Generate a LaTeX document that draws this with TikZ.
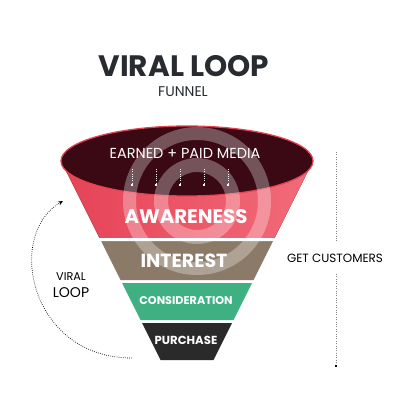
\documentclass[tikz,border=0pt]{standalone}
\usepackage{tikz}
\usepackage{xcolor}
\usepackage{fontspec}
\setmainfont{Poppins}
\usetikzlibrary{calc,arrows.meta,positioning}
\definecolor{titleGray}{RGB}{40,44,48}
\definecolor{funnelRed}{RGB}{230,66,86}
\definecolor{funnelPink}{RGB}{242,108,122}
\definecolor{funnelDark}{RGB}{58,9,19}
\definecolor{funnelBrown}{RGB}{139,122,104}
\definecolor{funnelGreen}{RGB}{62,176,130}
\definecolor{funnelBlack}{RGB}{42,42,42}
\definecolor{dotGray}{RGB}{130,130,130}
\newcommand{\BandText}[2]{{\fontsize{#1}{#1}\selectfont\bfseries\color{white}#2}}
\tikzset{
  bandlabel/.style={inner sep=0pt,align=center},
  thinlabel/.style={inner sep=0pt,align=center,text=black},
}

\begin{document}
\begin{tikzpicture}[x=0.025cm,y=-0.025cm]
\useasboundingbox[fill=white] (0,0) rectangle (400,400);
\node[inner sep=0pt,text=titleGray] (title) at (184,66) {\fontsize{21}{21}\selectfont\bfseries VIRAL LOOP};
\node[thinlabel,text=titleGray] (subtitle) at (183,92) {\fontsize{10}{10}\selectfont FUNNEL};
\fill[left color=funnelRed,right color=funnelPink] (61,161) -- (313,161) -- (274.5,238) -- (99.5,238) -- cycle;
\fill[funnelBrown] (101,241) -- (273,241) -- (253.5,280) -- (120.5,280) -- cycle;
\fill[funnelGreen] (122,283) -- (252,283) -- (233.5,320) -- (140.5,320) -- cycle;
\fill[funnelBlack] (142,323) -- (232,323) -- (213.5,360) -- (160.5,360) -- cycle;
\fill[funnelDark,draw=funnelRed,line width=0.9pt] (187,161) ellipse[x radius=126,y radius=35];
\begin{scope}
  \clip (313,161) arc[start angle=0,end angle=-180,x radius=126,y radius=35]
        -- (99.5,238) -- (101,241) -- (120.5,280) -- (253.5,280) -- (273,241) -- (274.5,238) -- cycle;
  \fill[white,opacity=0.3,even odd rule] (197,201) circle[radius=74] (197,201) circle[radius=61]
        (197,201) circle[radius=43] (197,201) circle[radius=29];
\end{scope}
\fill[white] (99.5,238) -- (274.5,238) -- (273,241) -- (101,241) -- cycle;
\node[thinlabel,text=white] (media) at (185,153) {\fontsize{10.3}{10.3}\selectfont EARNED + PAID MEDIA};
\foreach \x in {132,156,180,204,228} {
  \draw[white,densely dotted,line width=0.6pt] (\x,169) -- (\x,183);
  \fill[white] (\x-1,184) rectangle (\x+1,186);
}
\node[bandlabel] (awareness) at (186,217) {\BandText{14}{AWARENESS}};
\node[bandlabel] (interest) at (184,261) {\BandText{13.5}{INTEREST}};
\node[bandlabel] (consideration) at (186,301) {\BandText{8}{CONSIDERATION}};
\node[bandlabel] (purchase) at (186,340) {\BandText{8.3}{PURCHASE}};
\node[thinlabel] (loopLabel) at (71,285) {\fontsize{8}{10}\selectfont VIRAL\\LOOP};
\coordinate (loopStart) at (132,358);
\coordinate (loopEnd) at (63,201);
\draw[densely dotted,line width=0.5pt,-{Stealth[length=3.5pt,width=3pt]}] (loopStart) .. controls (30,358) and (5,235) .. (loopEnd);
\node[thinlabel,inner ysep=8pt] (customers) at (335,258) {\fontsize{8.5}{8.5}\selectfont GET CUSTOMERS};
\coordinate (custTop) at (336,152);
\coordinate (custBottom) at (336,366);
\draw[dotGray,densely dotted,line width=0.7pt] (custTop) -- (custTop |- customers.north);
\draw[dotGray,densely dotted,line width=0.7pt] (custBottom |- customers.south) -- (custBottom);
\fill[black] ($(custBottom)+(-1,-1)$) rectangle ($(custBottom)+(1,1)$);
\end{tikzpicture}
\end{document}
